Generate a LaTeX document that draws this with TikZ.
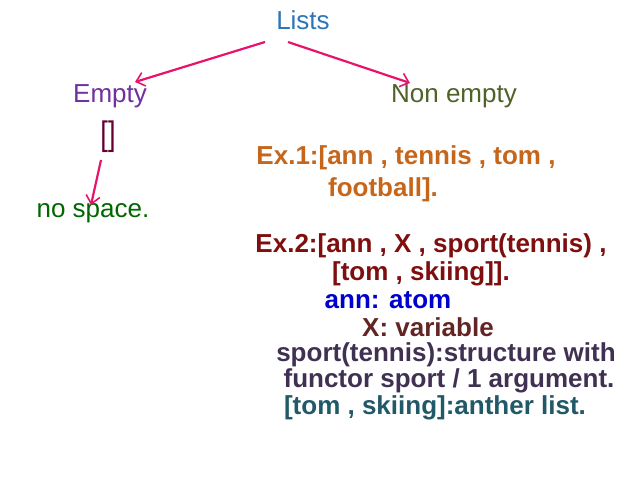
\documentclass[tikz,border=0pt]{standalone}
\usepackage{fontspec}
\setmainfont{Liberation Sans}
\usetikzlibrary{arrows.meta}
\definecolor{cLists}{HTML}{2E75B6}
\definecolor{cEmpty}{HTML}{7030A0}
\definecolor{cNon}{HTML}{4F6228}
\definecolor{cBr}{HTML}{660033}
\definecolor{cNo}{HTML}{006600}
\definecolor{cEx1}{HTML}{C5661B}
\definecolor{cEx2}{HTML}{7F0F0F}
\definecolor{cAnn}{HTML}{0000CC}
\definecolor{cX}{HTML}{632523}
\definecolor{cSp}{HTML}{403152}
\definecolor{cTom}{HTML}{215968}
\definecolor{cArr}{HTML}{E8146C}
\tikzset{
  lbl/.style={inner sep=0pt, font=\fontsize{26}{30}\selectfont},
  bl/.style={inner sep=0pt, font=\fontsize{26}{30}\selectfont\bfseries},
  arr/.style={draw=cArr, line width=2.2pt, -{Straight Barb[length=8pt,width=14pt,line width=1.6pt]}}
}
\begin{document}
\begin{tikzpicture}[x=1pt,y=-1pt]
\useasboundingbox (0,0) rectangle (638,478);
\node[lbl, text=cLists] (lists) at (303,20) {Lists};
\node[lbl, text=cEmpty] (empty) at (110,96) {Empty};
\node[lbl, text=cNon] (non) at (454,96) {Non empty};
\node[inner sep=0pt, font=\fontsize{34}{36}\selectfont, text=cBr, xscale=0.8] (br) at (108,137) {[]};
\node[lbl, text=cNo] (nos) at (93,213) {no space.};
\coordinate (l1) at (265,42); \coordinate (e1) at (135,82);
\coordinate (l2) at (288,42); \coordinate (n1) at (410,83);
\coordinate (b1) at (101,160); \coordinate (s1) at (91,205);
\draw[arr] (l1) -- (e1);
\draw[arr] (l2) -- (n1);
\draw[arr] (b1) -- (s1);
\node[bl, text=cEx1] (ex1a) at (406,158) {Ex.1:[ann , tennis , tom ,};
\node[bl, text=cEx1] (ex1b) at (383,190) {football].};
\node[bl, text=cEx2] (ex2a) at (431,246) {Ex.2:[ann , X , sport(tennis) ,};
\node[bl, text=cEx2] (ex2b) at (421,274) {[tom , skiing]].};
\node[bl, text=cAnn] (ann) at (388,300) {ann: atom};
\node[bl, text=cX] (x) at (428,327) {X: variable};
\node[bl, text=cSp] (sp1) at (446,355) {sport(tennis):structure with};
\node[bl, text=cSp] (sp2) at (449,381) {functor sport / 1 argument.};
\node[bl, text=cTom] (tom) at (435,408) {[tom , skiing]:anther list.};
\end{tikzpicture}
\end{document}
